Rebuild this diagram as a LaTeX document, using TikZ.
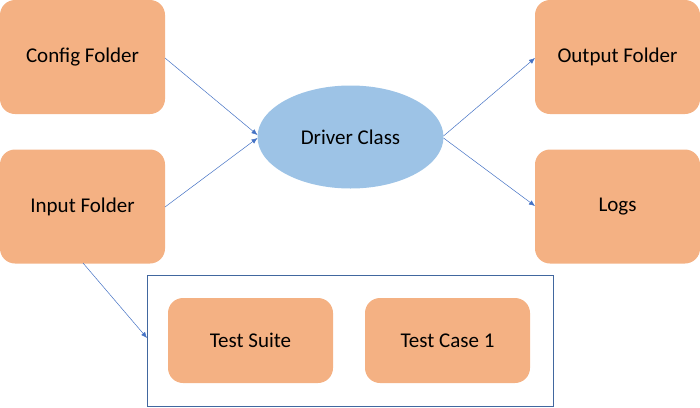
\documentclass[tikz,border=0pt]{standalone}
\usepackage{fontspec}
\setmainfont{Carlito}
\usetikzlibrary{shapes.geometric,arrows.meta}
\definecolor{boxorange}{HTML}{F4B183}
\definecolor{ellblue}{HTML}{9DC3E6}
\definecolor{arrowblue}{HTML}{4472C4}
\definecolor{framblue}{HTML}{41679F}
\tikzset{
  box/.style={fill=boxorange, draw=none, rounded corners=15pt, minimum width=165pt, minimum height=114pt, inner sep=0pt, font=\fontsize{21}{24}\selectfont},
  smallbox/.style={box, minimum width=165pt, minimum height=85pt},
  ellnode/.style={ellipse, fill=ellblue, draw=none, minimum width=186pt, minimum height=103pt, inner sep=0pt, font=\fontsize{21}{24}\selectfont},
  conn/.style={draw=arrowblue, line width=0.5pt, -{Latex[length=6pt,width=5pt]}},
  frame/.style={draw=framblue, line width=0.9pt, fill=none}
}
\begin{document}
\begin{tikzpicture}[x=1pt,y=-1pt]
\useasboundingbox (0,0) rectangle (700,407);
\node[box] (config) at (82.5,57) {Config Folder};
\node[box] (input) at (82.5,206.5) {Input Folder};
\node[box] (output) at (617.5,57) {Output Folder};
\node[box] (logs) at (617.5,206.5) {Logs};
\node[ellnode] (driver) at (350.5,137) {Driver Class};
\node[frame, minimum width=406pt, minimum height=131pt, inner sep=0pt] (group) at (350,340.5) {};
\node[smallbox] (suite) at (250.5,340.5) {Test Suite};
\node[smallbox] (case) at (447.5,340.5) {Test Case 1};
\coordinate (c1) at (165,58);
\coordinate (c2) at (165,207);
\coordinate (d1) at (257.5,135);
\coordinate (d2) at (257.5,138);
\coordinate (e1) at (443.5,136);
\coordinate (e2) at (443.5,138);
\coordinate (o1) at (535,58);
\coordinate (l1) at (535,206);
\coordinate (i1) at (83,263);
\coordinate (g1) at (147,338);
\draw[conn] (c1) -- (d1);
\draw[conn] (c2) -- (d2);
\draw[conn] (e1) -- (o1);
\draw[conn] (e2) -- (l1);
\draw[conn] (i1) -- (g1);
\end{tikzpicture}
\end{document}
